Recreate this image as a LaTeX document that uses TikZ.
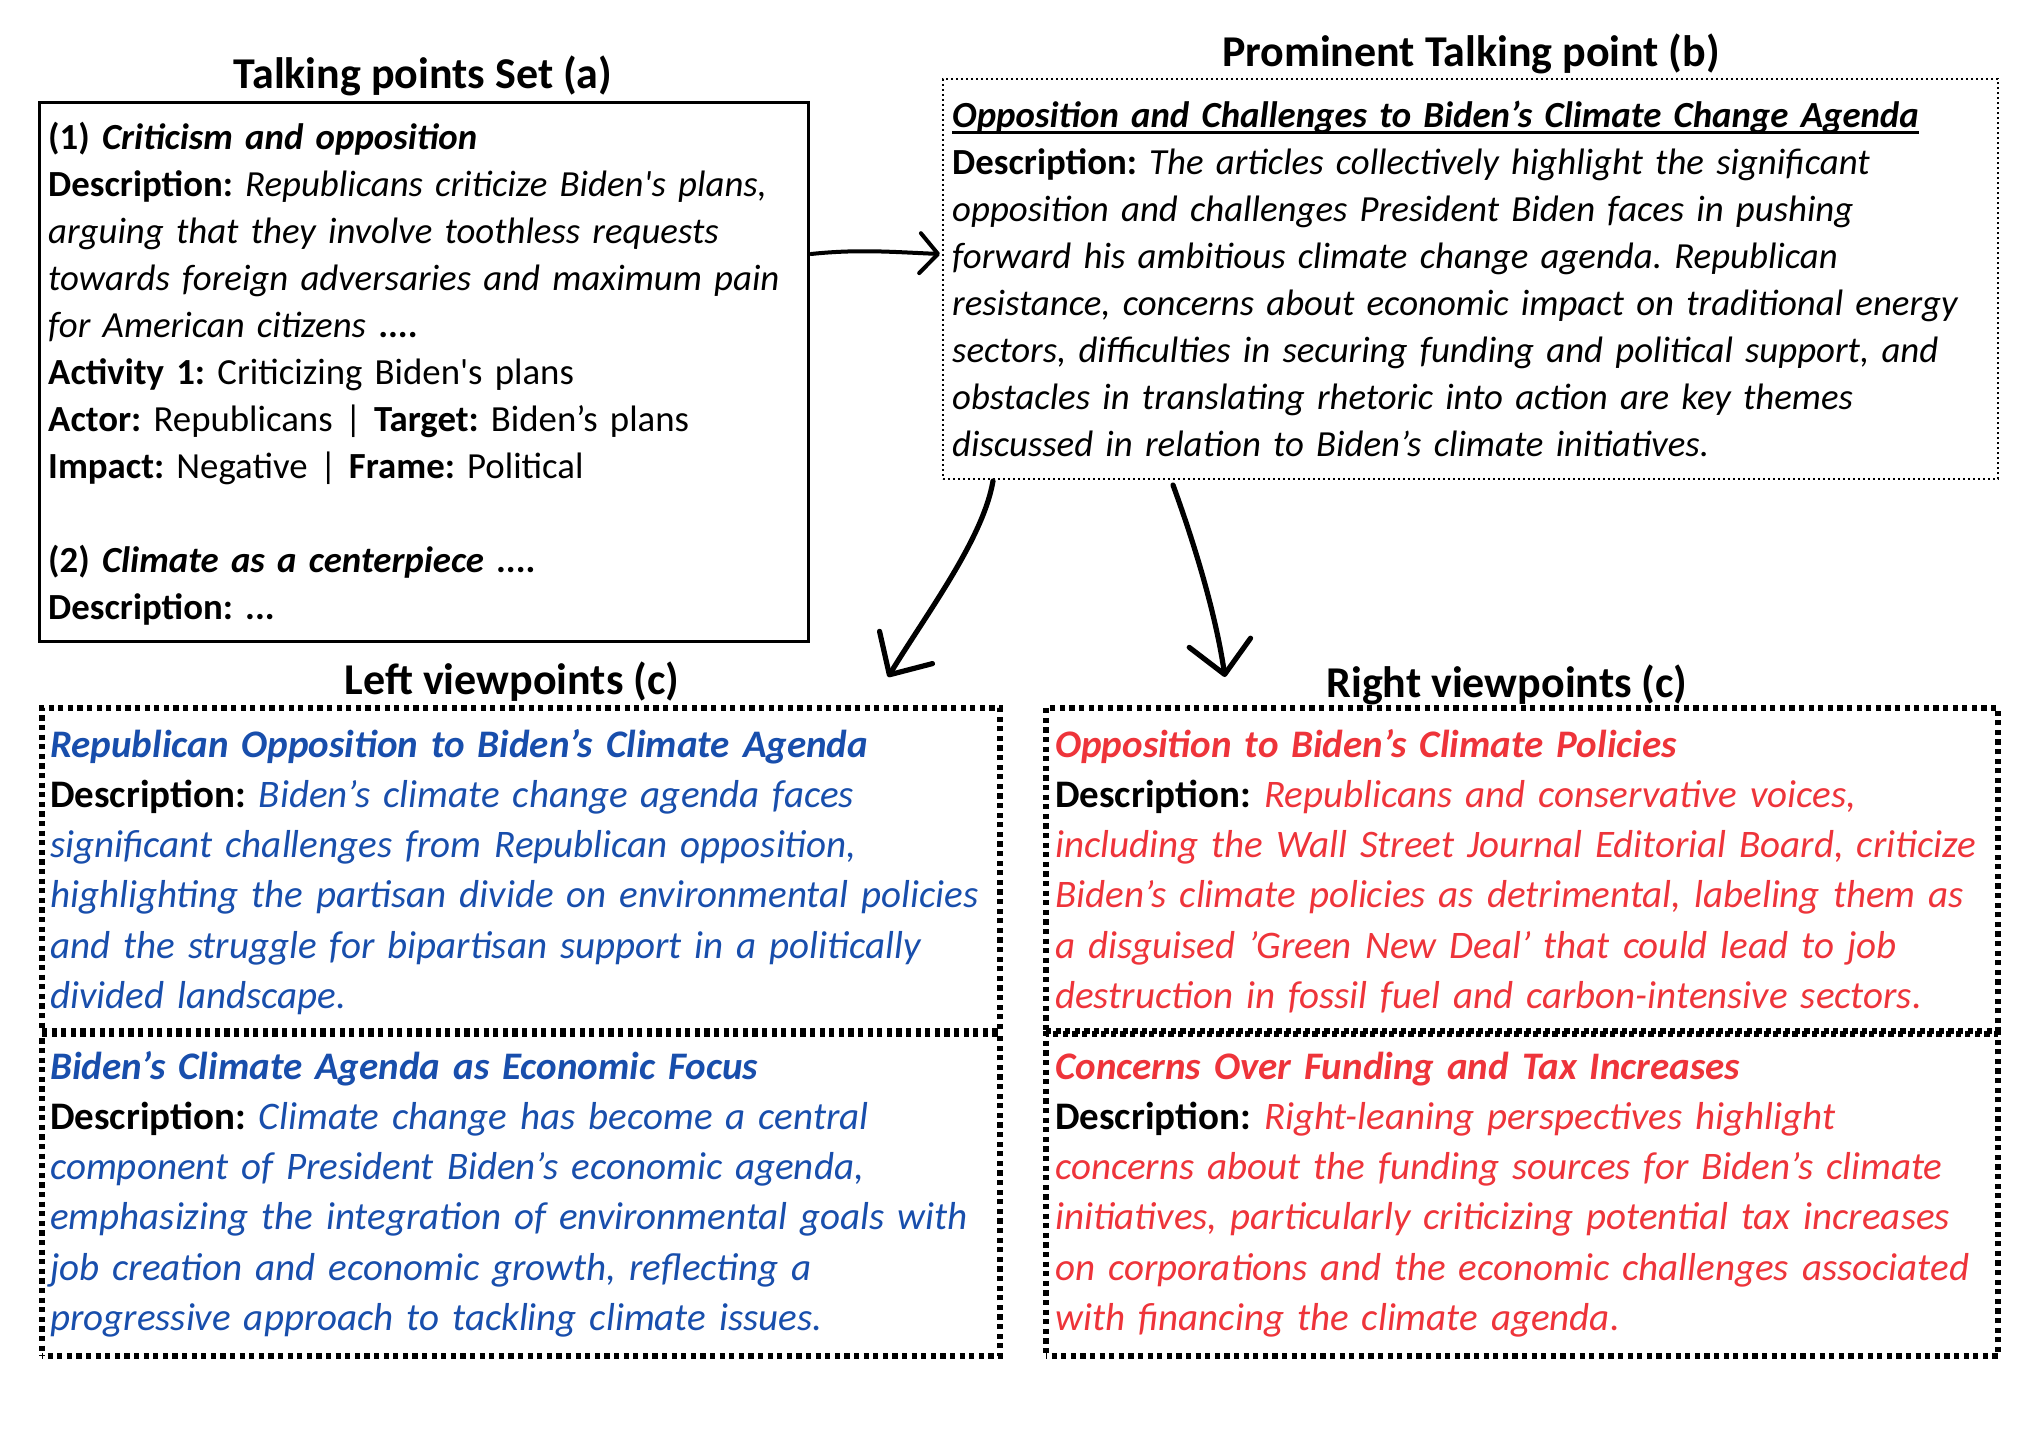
\documentclass[tikz,border=0pt]{standalone}
\usepackage{fontspec}
\setmainfont{Carlito}[Ligatures=TeXOff]
\usetikzlibrary{arrows.meta,calc}
\definecolor{lblue}{RGB}{24,78,172}
\definecolor{rred}{RGB}{238,52,58}
\newcommand{\bluetxt}[1]{\textcolor{lblue}{\itshape #1}}
\newcommand{\redtxt}[1]{\textcolor{rred}{\itshape #1}}
\newcommand{\thickul}[1]{\leavevmode\setbox0=\hbox{#1}\rlap{\rule[-7pt]{\wd0}{2.6pt}}\box0}
\frenchspacing
\begin{document}
\begin{tikzpicture}[x=1pt,y=-1pt,
  solidbox/.style={draw,line width=3pt,rectangle,inner sep=0,outer sep=0},
  finedot/.style={draw,line width=2.4pt,dash pattern=on 2.4pt off 2.6pt,rectangle,inner sep=0,outer sep=0},
  bigdot/.style={draw,line width=5.2pt,dash pattern=on 5.2pt off 4.4pt,rectangle,inner sep=0,outer sep=0},
  ttl/.style={anchor=base,inner sep=0,font=\fontsize{44}{48}\selectfont\bfseries},
  bodyA/.style={anchor=base west,align=left,text width=1150pt,inner sep=0,font=\fontsize{36.8}{47}\selectfont\frenchspacing},
  bodyC/.style={anchor=base west,align=left,text width=1150pt,inner sep=0,font=\fontsize{39}{50.3}\selectfont\frenchspacing},
  arr/.style={line width=5.2pt,line cap=round,-{Straight Barb[length=32pt,width=62pt,line cap=round,line join=round]}},
  arrsmall/.style={line width=4pt,line cap=round,-{Straight Barb[length=18pt,width=40pt,line cap=round,line join=round]}}
]
\path[use as bounding box,fill=white] (0,0) rectangle (2034,1449);

% boxes
\node[solidbox,minimum width=769pt,minimum height=539pt,anchor=north west] (boxa) at (39,102) {};
\node[finedot,minimum width=1055pt,minimum height=400pt,anchor=north west] (boxb) at (943,79) {};
\node[bigdot,minimum width=958pt,minimum height=323pt,anchor=north west] (ltop) at (42,708) {};
\node[bigdot,minimum width=958pt,minimum height=322pt,anchor=north west,dash phase=4pt] (lbot) at (42,1034) {};
\node[bigdot,minimum width=952pt,minimum height=323pt,anchor=north west] (rtop) at (1046,708) {};
\node[bigdot,minimum width=952pt,minimum height=322pt,anchor=north west,dash phase=4pt] (rbot) at (1046,1034) {};

% titles
\node[ttl] (tta) at (423,88) {Talking points Set (a)};
\node[ttl] (ttb) at (1471,66) {Prominent Talking point (b)};
\node[ttl] (ttl) at (512,694) {Left viewpoints (c)};
\node[ttl] (ttr) at (1507,697) {Right viewpoints (c)};

% box a text
\node[bodyA] (ta) at (48,149) {\textbf{(1) \textit{Criticism and opposition}}\\
\textbf{Description:} \textit{Republicans criticize Biden's plans,}\\
\textit{arguing that they involve toothless requests}\\
\textit{towards foreign adversaries and maximum pain}\\
\textit{for American citizens} \textbf{....}\\
\textbf{Activity 1:} Criticizing Biden's plans\\
\textbf{Actor:} Republicans | \textbf{Target:} Biden’s plans\\
\textbf{Impact:} Negative | \textbf{Frame:} Political\\[47pt]
\textbf{(2) \textit{Climate as a centerpiece} ....}\\
\textbf{Description: ...}};

% box b text
\node[bodyA] (tb) at (952,127) {\thickul{\textbf{\textit{Opposition and Challenges to Biden’s Climate Change Agenda}}}\\
\textbf{Description:} \textit{The articles collectively highlight the significant}\\
\textit{opposition and challenges President Biden faces in pushing}\\
\textit{forward his ambitious climate change agenda. Republican}\\
\textit{resistance, concerns about economic impact on traditional energy}\\
\textit{sectors, difficulties in securing funding and political support, and}\\
\textit{obstacles in translating rhetoric into action are key themes}\\
\textit{discussed in relation to Biden’s climate initiatives.}};

% left texts
\node[bodyC] (tl1) at (50,757) {\textcolor{lblue}{\textbf{\textit{Republican Opposition to Biden’s Climate Agenda}}}\\
\textbf{Description:} \bluetxt{Biden’s climate change agenda faces}\\
\bluetxt{significant challenges from Republican opposition,}\\
\bluetxt{highlighting the partisan divide on environmental policies}\\
\bluetxt{and the struggle for bipartisan support in a politically}\\
\bluetxt{divided landscape.}};
\node[bodyC] (tl2) at (50,1079) {\textcolor{lblue}{\textbf{\textit{Biden’s Climate Agenda as Economic Focus}}}\\
\textbf{Description:} \bluetxt{Climate change has become a central}\\
\bluetxt{component of President Biden’s economic agenda,}\\
\bluetxt{emphasizing the integration of environmental goals with}\\
\bluetxt{job creation and economic growth, reflecting a}\\
\bluetxt{progressive approach to tackling climate issues.}};

% right texts
\node[bodyC] (tr1) at (1055,757) {\textcolor{rred}{\textbf{\textit{Opposition to Biden’s Climate Policies}}}\\
\textbf{Description:} \redtxt{Republicans and conservative voices,}\\
\redtxt{including the Wall Street Journal Editorial Board, criticize}\\
\redtxt{Biden’s climate policies as detrimental, labeling them as}\\
\redtxt{a disguised ’Green New Deal’ that could lead to job}\\
\redtxt{destruction in fossil fuel and carbon-intensive sectors.}};
\node[bodyC] (tr2) at (1055,1079) {\textcolor{rred}{\textbf{\textit{Concerns Over Funding and Tax Increases}}}\\
\textbf{Description:} \redtxt{Right-leaning perspectives highlight}\\
\redtxt{concerns about the funding sources for Biden’s climate}\\
\redtxt{initiatives, particularly criticizing potential tax increases}\\
\redtxt{on corporations and the economic challenges associated}\\
\redtxt{with financing the climate agenda.}};

% arrows
\draw[arrsmall] ($(boxa.north east)+(3,152)$) .. controls ($(boxa.north east)+(50,147)$) and ($(boxb.north west)+(-50,173)$) .. ($(boxb.north west)+(-3,175)$);
\draw[arr] ($(boxb.south west)+(50,2)$) .. controls ($(boxb.south west)+(40,60)$) and ($(ltop.north west)+(885,-95)$) .. ($(ltop.north west)+(846,-31)$);
\draw[arr] ($(boxb.south west)+(230,6)$) .. controls ($(boxb.south west)+(250,61)$) and ($(rtop.north west)+(169,-98)$) .. ($(rtop.north west)+(179,-31)$);
\end{tikzpicture}
\end{document}
